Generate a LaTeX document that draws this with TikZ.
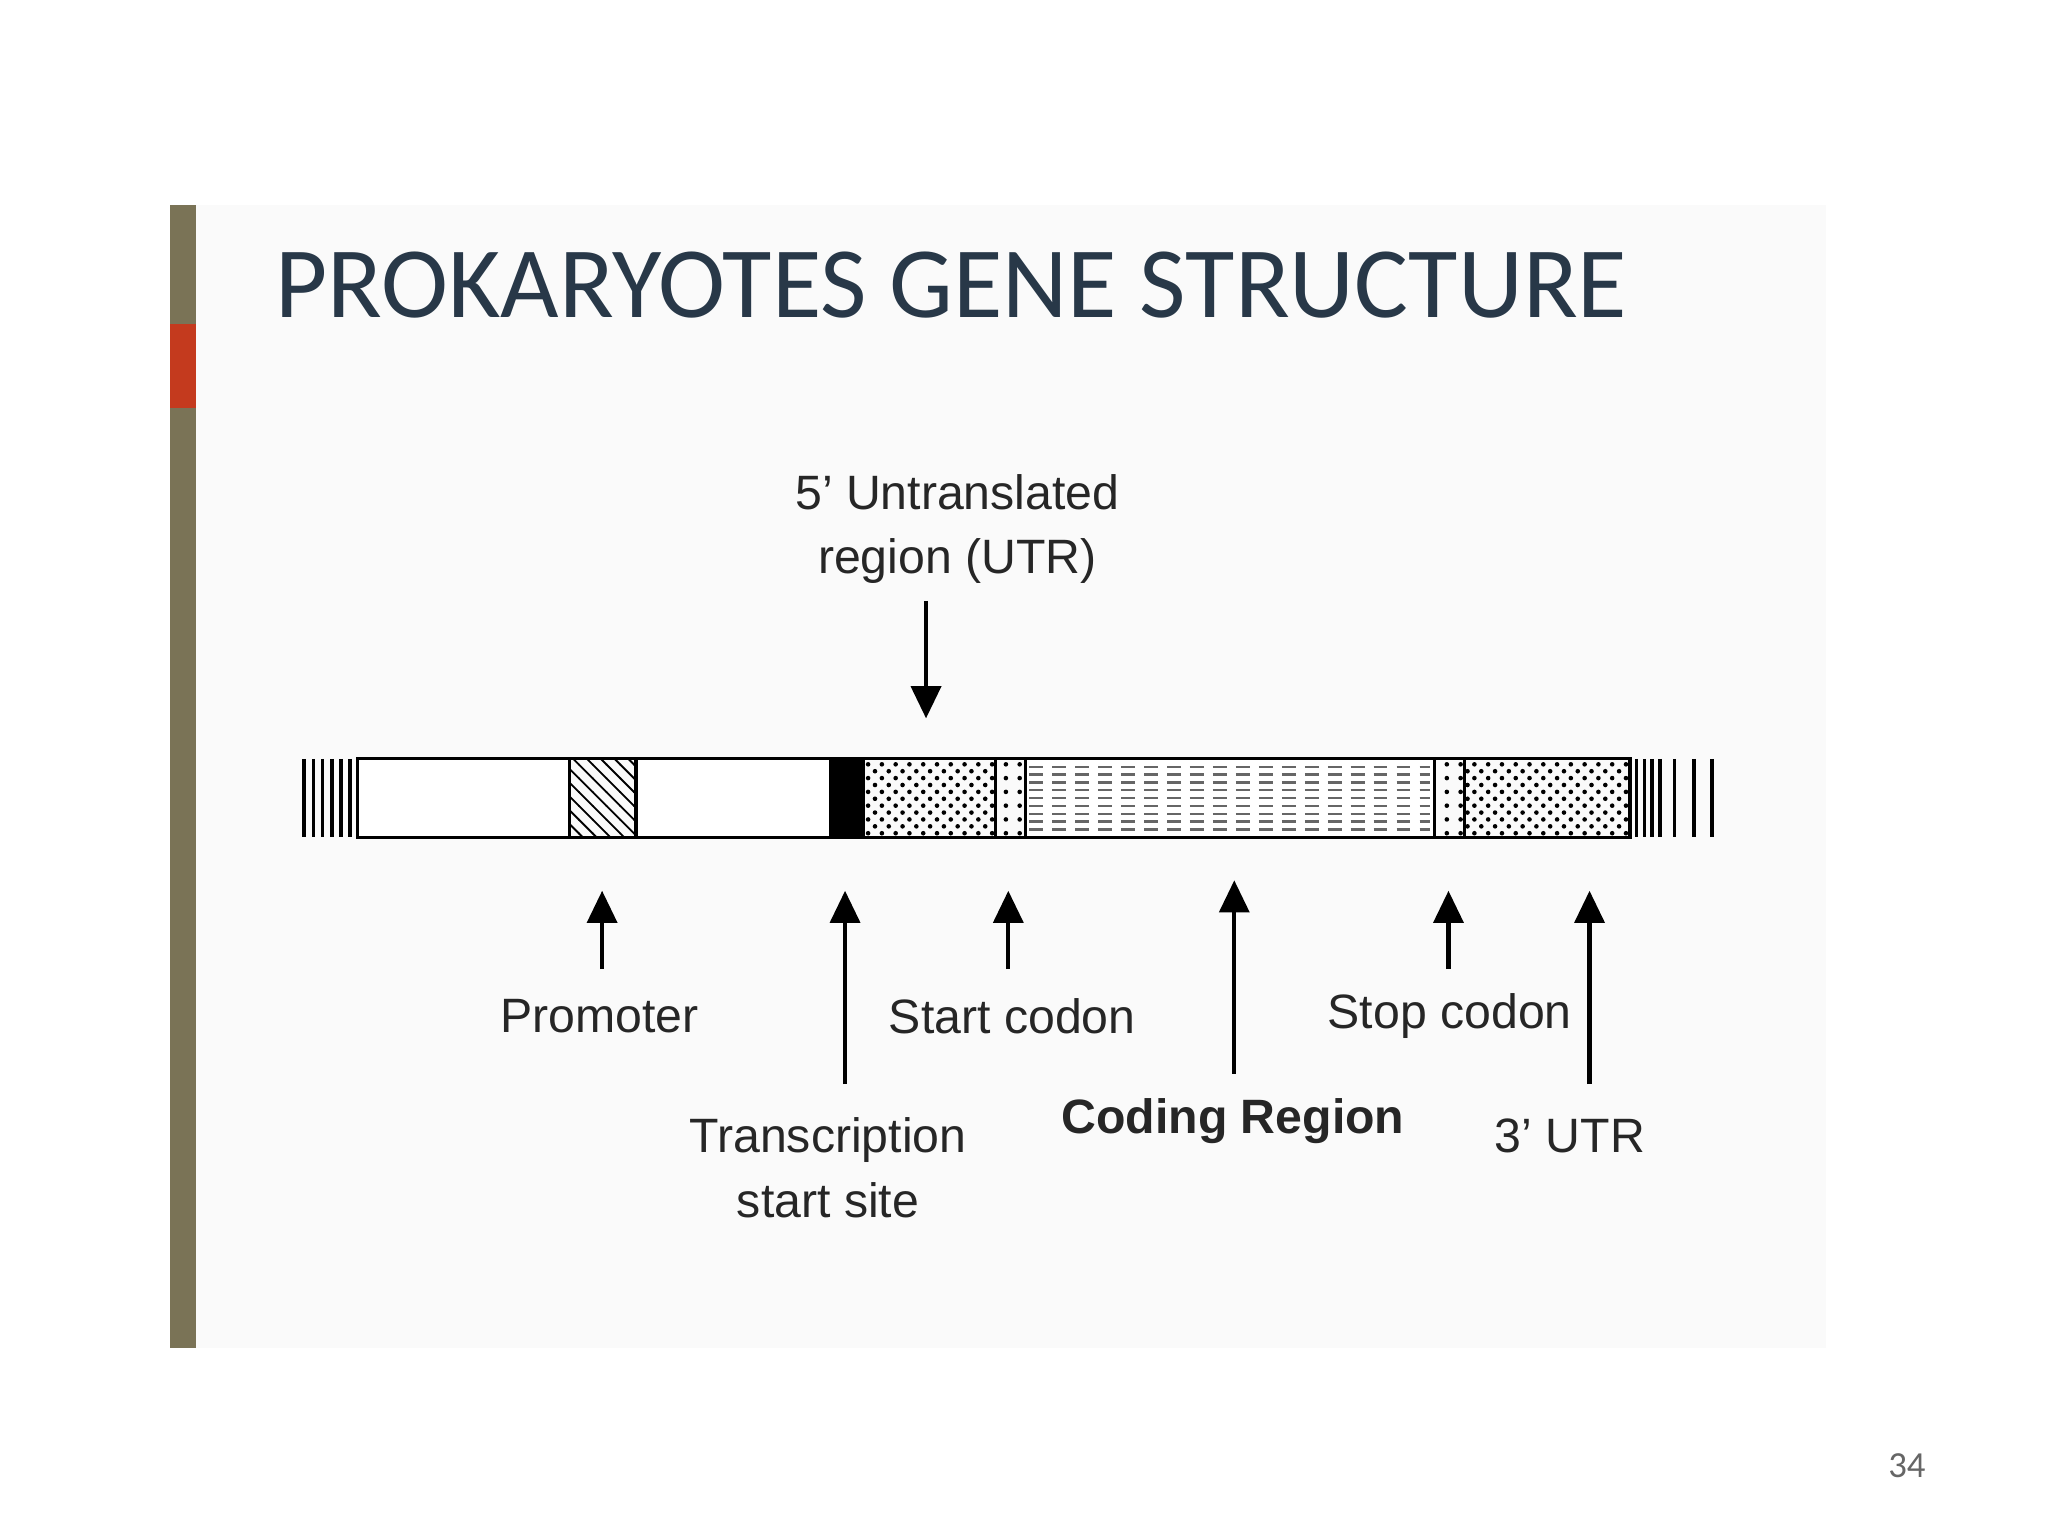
\documentclass[tikz,border=0pt]{standalone}
\usepackage{fontspec}
\setmainfont{Liberation Sans}
\newfontfamily\titlefont{Carlito}
\usetikzlibrary{arrows.meta,patterns}
\definecolor{olivebar}{RGB}{122,115,86}
\definecolor{redbar}{RGB}{196,58,30}
\definecolor{titleblue}{RGB}{40,56,72}
\begin{document}
\begin{tikzpicture}[x=0.01cm,y=-0.01cm,
  lbl/.style={font=\fontsize{10.5}{12}\selectfont, text=black!85, inner sep=0pt, align=center},
  arr/.style={line width=0.9pt,-{Triangle[length=7pt,width=6.5pt]}},
  seg/.style={draw=black, line width=0.7pt},
  tick/.style={line width=0.8pt}]
\useasboundingbox (0,0) rectangle (1568,1176);
\fill[white] (0,0) rectangle (1568,1176);
\fill[black!2] (150,157) rectangle (1398,1032);
% left accent bar
\fill[olivebar] (130,157) rectangle (150,1032);
\fill[redbar] (130,248) rectangle (150,312);
% title
\node[anchor=base west, inner sep=0pt, text=titleblue,
  font=\titlefont\fontsize{22}{26}\selectfont] (title) at (210,243) {PROKARYOTES GENE STRUCTURE};
% bar segments
\draw[seg, fill=white] (274,581) rectangle (436,641);
\draw[seg, pattern=north west lines] (436,581) rectangle (487,641);
\draw[seg, fill=white] (487,581) rectangle (636,641);
\draw[seg, fill=black] (636,581) rectangle (661,641);
\draw[seg, pattern=crosshatch dots] (661,581) rectangle (762,641);
\draw[seg, pattern=dots] (762,581) rectangle (785,641);
\draw[seg, fill=white] (785,581) rectangle (1098,641);
\foreach \yy in {587,593,599,605,611,617,623,629,635}
  \draw[black!60, line width=0.5pt, dash pattern=on 3pt off 2pt] (788,\yy) -- (1095,\yy);
\draw[seg, pattern=dots] (1098,581) rectangle (1121,641);
\draw[seg, pattern=crosshatch dots] (1121,581) rectangle (1248,641);
\draw[seg] (274,581) rectangle (1248,641);
% ticks
\foreach \xx in {233,240,247,254,261,268,1253,1259,1265,1271,1282,1297,1311}
  \draw[tick] (\xx,581) -- (\xx,641);
% labels
\node[lbl] (utr5) at (733,405) {5' Untranslated\\[2pt]region (UTR)};
\node[lbl] (prom) at (459,778) {Promoter};
\node[lbl] (tss) at (634,894) {Transcription\\[2pt]start site};
\node[lbl] (startc) at (775,778) {Start codon};
\node[lbl, font=\fontsize{10.5}{12}\selectfont\bfseries] (coding) at (944,858) {Coding Region};
\node[lbl] (stopc) at (1110,778) {Stop codon};
\node[lbl] (utr3) at (1202,870) {3' UTR};
% arrows
\coordinate (a0) at (709,460); \coordinate (b0) at (709,550);
\draw[arr] (a0) -- (b0);
\coordinate (a1) at (461,742); \coordinate (b1) at (461,682);
\coordinate (a2) at (647,830); \coordinate (b2) at (647,682);
\coordinate (a3) at (772,742); \coordinate (b3) at (772,682);
\coordinate (a4) at (945,822); \coordinate (b4) at (945,674);
\coordinate (a5) at (1109,742); \coordinate (b5) at (1109,682);
\coordinate (a6) at (1217,830); \coordinate (b6) at (1217,682);
\foreach \i in {1,...,6} \draw[arr] (a\i) -- (b\i);
% page number
\node[text=black!60, font=\titlefont\fontsize{8}{10}\selectfont] (pg) at (1460,1122) {34};
\end{tikzpicture}
\end{document}
